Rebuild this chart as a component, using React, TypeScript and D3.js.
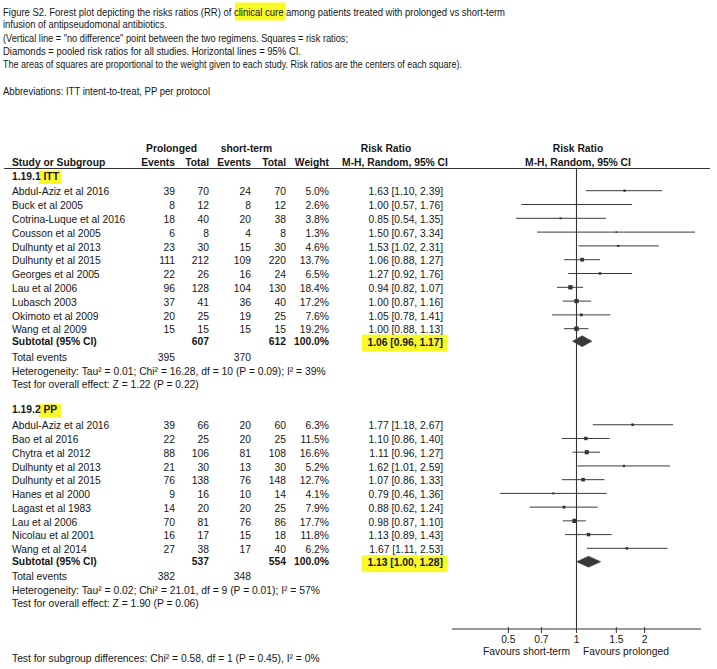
import React from 'react';
import * as d3 from 'd3';

// ---------- DATA ----------
const ittStudies = ['Abdul-Aziz et al 2016', 'Buck et al 2005', 'Cotrina-Luque et al 2016', 'Cousson et al 2005', 'Dulhunty et al 2013', 'Dulhunty et al 2015', 'Georges et al 2005', 'Lau et al 2006', 'Lubasch 2003', 'Okimoto et al 2009', 'Wang et al 2009'];
const ittProEvents = [39, 8, 18, 6, 23, 111, 22, 96, 37, 20, 15];
const ittProTotal = [70, 12, 40, 8, 30, 212, 26, 128, 41, 25, 15];
const ittShortEvents = [24, 8, 20, 4, 15, 109, 16, 104, 36, 19, 15];
const ittShortTotal = [70, 12, 38, 8, 30, 220, 24, 130, 40, 25, 15];
const ittWeight = [5.0, 2.6, 3.8, 1.3, 4.6, 13.7, 6.5, 18.4, 17.2, 7.6, 19.2];
const ittRR = [1.63, 1.0, 0.85, 1.5, 1.53, 1.06, 1.27, 0.94, 1.0, 1.05, 1.0];
const ittLo = [1.10, 0.57, 0.54, 0.67, 1.02, 0.88, 0.92, 0.82, 0.87, 0.78, 0.88];
const ittHi = [2.39, 1.76, 1.35, 3.34, 2.31, 1.27, 1.76, 1.07, 1.16, 1.41, 1.13];
const ittSubtotal = { proTotal: 607, shortTotal: 612, rr: 1.06, lo: 0.96, hi: 1.17, proEvents: 395, shortEvents: 370 };
const ittHet = 'Heterogeneity: Tau\u00b2 = 0.01; Chi\u00b2 = 16.28, df = 10 (P = 0.09); I\u00b2 = 39%';
const ittTest = 'Test for overall effect: Z = 1.22 (P = 0.22)';

const ppStudies = ['Abdul-Aziz et al 2016', 'Bao et al 2016', 'Chytra et al 2012', 'Dulhunty et al 2013', 'Dulhunty et al 2015', 'Hanes et al 2000', 'Lagast et al 1983', 'Lau et al 2006', 'Nicolau et al 2001', 'Wang et al 2014'];
const ppProEvents = [39, 22, 88, 21, 76, 9, 14, 70, 16, 27];
const ppProTotal = [66, 25, 106, 30, 138, 16, 20, 81, 17, 38];
const ppShortEvents = [20, 20, 81, 13, 76, 10, 20, 76, 15, 17];
const ppShortTotal = [60, 25, 108, 30, 148, 14, 25, 86, 18, 40];
const ppWeight = [6.3, 11.5, 16.6, 5.2, 12.7, 4.1, 7.9, 17.7, 11.8, 6.2];
const ppRR = [1.77, 1.10, 1.11, 1.62, 1.07, 0.79, 0.88, 0.98, 1.13, 1.67];
const ppLo = [1.18, 0.86, 0.96, 1.01, 0.86, 0.46, 0.62, 0.87, 0.89, 1.11];
const ppHi = [2.67, 1.40, 1.27, 2.59, 1.33, 1.36, 1.24, 1.10, 1.43, 2.53];
const ppSubtotal = { proTotal: 537, shortTotal: 554, rr: 1.13, lo: 1.00, hi: 1.28, proEvents: 382, shortEvents: 348 };
const ppHet = 'Heterogeneity: Tau\u00b2 = 0.02; Chi\u00b2 = 21.01, df = 9 (P = 0.01); I\u00b2 = 57%';
const ppTest = 'Test for overall effect: Z = 1.90 (P = 0.06)';

const subgroupTest = 'Test for subgroup differences: Chi\u00b2 = 0.58, df = 1 (P = 0.45), I\u00b2 = 0%';

const tickValues = [0.5, 0.7, 1, 1.5, 2];
const tickLabels = ['0.5', '0.7', '1', '1.5', '2'];

const titleFirst = 'Figure S2. Forest plot depicting the risks ratios (RR) of clinical cure among patients treated with prolonged vs short-term';
const titleLines = [
  'infusion of antipseudomonal antibiotics.',
  '(Vertical line = "no difference" point between the two regimens. Squares = risk ratios;',
  'Diamonds = pooled risk ratios for all studies. Horizontal lines = 95% CI.',
  'The areas of squares are proportional to the weight given to each study.  Risk ratios are the centers of each square).',
];
const abbreviations = 'Abbreviations: ITT intent-to-treat, PP per protocol';

// ---------- LAYOUT ----------
const FONT = '"Liberation Sans", Arial, Helvetica, sans-serif';
const INK = '#161616';
const HL = '#f9f928';
const FS = 10.3;
const TFS = 11.6;

const fmt2 = (v: number) => v.toFixed(2);
const ciText = (r: number, l: number, h: number) => `${fmt2(r)} [${fmt2(l)}, ${fmt2(h)}]`;

export default function App() {
  const x = d3.scaleLog().domain([1 / 3.55, 3.55]).range([452, 701]);
  const y = d3.scaleLinear().domain([0, 1]).range([191.7, 205.5]);
  const side = d3.scaleSqrt().domain([0, 20]).range([0, 4.5]);

  const groups = [
    {
      id: '1.19.1', tag: 'ITT', names: ittStudies, pe: ittProEvents, pt: ittProTotal, se: ittShortEvents, st: ittShortTotal,
      w: ittWeight, rr: ittRR, lo: ittLo, hi: ittHi, sub: ittSubtotal, het: ittHet, test: ittTest,
      labelRow: -1.14, start: 0, step: 1, subRow: 10.83, totRow: 11.97, hetRow: 12.98, testRow: 13.94,
    },
    {
      id: '1.19.2', tag: 'PP', names: ppStudies, pe: ppProEvents, pt: ppProTotal, se: ppShortEvents, st: ppShortTotal,
      w: ppWeight, rr: ppRR, lo: ppLo, hi: ppHi, sub: ppSubtotal, het: ppHet, test: ppTest,
      labelRow: 15.78, start: 16.96, step: 0.995, subRow: 26.81, totRow: 27.85, hetRow: 28.91, testRow: 29.83,
    },
  ];

  const colX = { name: 12, pe: 175, pt: 209, se: 251, st: 286, w: 329, ci: 443 };
  const axisY = 629;
  const bl = (c: number) => c + 3.7;

  const txt = (props: any, s: string | number, key?: string) => (
    <text key={key} fontFamily={FONT} fontSize={FS} fill={INK} {...props}>{s}</text>
  );

  return (
    <svg width={717} height={669} style={{ position: 'absolute', left: 0, top: 0, background: '#fff' }}>
      <rect x={0} y={0} width={717} height={669} fill="#fff" />
      {/* Title */}
      <rect x={235} y={2.5} width={50} height={18} fill={HL} />
      <text fontFamily={FONT} fontSize={TFS} fill={INK} x={3} y={15.8} textLength={502} lengthAdjust="spacingAndGlyphs">{titleFirst}</text>
      {titleLines.map((t, i) => (
        <text key={'tl' + i} fontFamily={FONT} fontSize={TFS} fill={INK} x={3} y={[28.2, 41.8, 54.8, 68.1][i]}
          textLength={[164, 345, 298, 459][i]} lengthAdjust="spacingAndGlyphs">{t}</text>
      ))}
      <text fontFamily={FONT} fontSize={TFS} fill={INK} x={3} y={94.8} textLength={207} lengthAdjust="spacingAndGlyphs">{abbreviations}</text>

      {/* Column headers */}
      {txt({ x: 171.5, y: bl(148.7), textAnchor: 'middle', fontWeight: 'bold' }, 'Prolonged')}
      {txt({ x: 246.5, y: bl(148.7), textAnchor: 'middle', fontWeight: 'bold' }, 'short-term')}
      {txt({ x: 386, y: bl(148.7), textAnchor: 'middle', fontWeight: 'bold' }, 'Risk Ratio')}
      {txt({ x: 578, y: bl(148.7), textAnchor: 'middle', fontWeight: 'bold' }, 'Risk Ratio')}
      {txt({ x: colX.name, y: bl(162.7), fontWeight: 'bold' }, 'Study or Subgroup')}
      {txt({ x: colX.pe, y: bl(162.7), textAnchor: 'end', fontWeight: 'bold' }, 'Events')}
      {txt({ x: colX.pt, y: bl(162.7), textAnchor: 'end', fontWeight: 'bold' }, 'Total')}
      {txt({ x: colX.se, y: bl(162.7), textAnchor: 'end', fontWeight: 'bold' }, 'Events')}
      {txt({ x: colX.st, y: bl(162.7), textAnchor: 'end', fontWeight: 'bold' }, 'Total')}
      {txt({ x: colX.w, y: bl(162.7), textAnchor: 'end', fontWeight: 'bold' }, 'Weight')}
      {txt({ x: 395, y: bl(162.7), textAnchor: 'middle', fontWeight: 'bold' }, 'M-H, Random, 95% CI')}
      {txt({ x: 578, y: bl(162.7), textAnchor: 'middle', fontWeight: 'bold' }, 'M-H, Random, 95% CI')}
      <line x1={4} x2={710} y1={168.5} y2={168.5} stroke="#333" strokeWidth={1.1} />

      {/* Null line */}
      <line x1={x(1)} x2={x(1)} y1={168.5} y2={axisY} stroke="#333" strokeWidth={1.1} />

      {groups.map((g) => {
        const rowC = (i: number) => y(g.start + i * g.step);
        const lc = y(g.labelRow);
        const sc = y(g.subRow);
        return (
          <g key={g.id}>
            <rect x={39} y={lc - 5.5} width={22} height={13.5} fill={HL} />
            <text fontFamily={FONT} fontSize={FS} fill={INK} fontWeight="bold" x={colX.name} y={bl(lc)}>{g.id + ' ' + g.tag}</text>
            {g.names.map((n, i) => {
              const c = rowC(i);
              const s = Math.max(1.6, side(g.w[i]));
              return (
                <g key={g.id + n}>
                  {txt({ x: colX.name, y: bl(c) }, n)}
                  {txt({ x: colX.pe, y: bl(c), textAnchor: 'end' }, g.pe[i])}
                  {txt({ x: colX.pt, y: bl(c), textAnchor: 'end' }, g.pt[i])}
                  {txt({ x: colX.se, y: bl(c), textAnchor: 'end' }, g.se[i])}
                  {txt({ x: colX.st, y: bl(c), textAnchor: 'end' }, g.st[i])}
                  {txt({ x: colX.w, y: bl(c), textAnchor: 'end' }, g.w[i].toFixed(1) + '%')}
                  {txt({ x: colX.ci, y: bl(c), textAnchor: 'end' }, ciText(g.rr[i], g.lo[i], g.hi[i]))}
                  <line x1={x(g.lo[i])} x2={x(g.hi[i])} y1={c - 1} y2={c - 1} stroke="#3a3a3a" strokeWidth={1} />
                  <rect x={x(g.rr[i]) - s / 2} y={c - 1 - s / 2} width={s} height={s} fill="#333" />
                </g>
              );
            })}
            {/* Subtotal */}
            <rect x={362} y={sc - 6.5} width={85.5} height={17} fill={HL} />
            {txt({ x: colX.name, y: bl(sc), fontWeight: 'bold' }, 'Subtotal (95% CI)')}
            {txt({ x: colX.pt, y: bl(sc), textAnchor: 'end', fontWeight: 'bold' }, g.sub.proTotal)}
            {txt({ x: colX.st, y: bl(sc), textAnchor: 'end', fontWeight: 'bold' }, g.sub.shortTotal)}
            {txt({ x: colX.w, y: bl(sc), textAnchor: 'end', fontWeight: 'bold' }, '100.0%')}
            {txt({ x: colX.ci, y: bl(sc + 1), textAnchor: 'end', fontWeight: 'bold' }, ciText(g.sub.rr, g.sub.lo, g.sub.hi))}
            <path
              d={`M${x(g.sub.lo)},${sc} L${x(g.sub.rr)},${sc - 5.5} L${x(g.sub.hi)},${sc} L${x(g.sub.rr)},${sc + 5.5} Z`}
              fill="#383838" stroke="#383838" strokeWidth={0.5}
            />
            {txt({ x: colX.name, y: bl(y(g.totRow)) }, 'Total events')}
            {txt({ x: colX.pe, y: bl(y(g.totRow)), textAnchor: 'end' }, g.sub.proEvents)}
            {txt({ x: colX.se, y: bl(y(g.totRow)), textAnchor: 'end' }, g.sub.shortEvents)}
            {txt({ x: colX.name, y: bl(y(g.hetRow)) }, g.het)}
            {txt({ x: colX.name, y: bl(y(g.testRow)) }, g.test)}
          </g>
        );
      })}

      {/* Axis */}
      <line x1={x.range()[0]} x2={x.range()[1]} y1={axisY} y2={axisY} stroke="#333" strokeWidth={1.1} />
      {tickValues.map((v, i) => (
        <g key={'t' + v}>
          <line x1={x(v)} x2={x(v)} y1={axisY - 2} y2={axisY + 4} stroke="#333" strokeWidth={1} />
          {txt({ x: x(v), y: bl(639), textAnchor: 'middle' }, tickLabels[i])}
        </g>
      ))}
      {txt({ x: 570, y: bl(651), textAnchor: 'end' }, 'Favours short-term')}
      {txt({ x: 583, y: bl(651) }, 'Favours prolonged')}

      {txt({ x: colX.name, y: bl(y(33.79)) }, subgroupTest)}
    </svg>
  );
}
